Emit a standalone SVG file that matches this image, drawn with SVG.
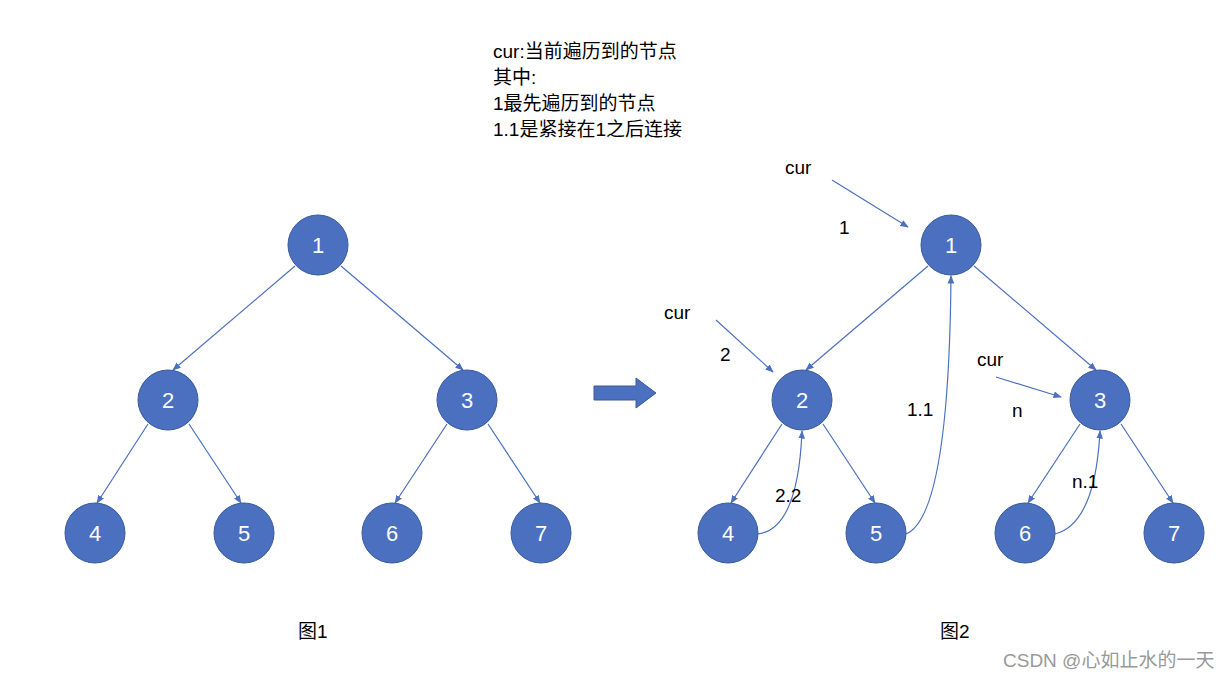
<svg xmlns="http://www.w3.org/2000/svg" width="1230" height="679" viewBox="0 0 1230 679">
<style>
.n circle{fill:#4a70bf;stroke:#3a5a9a;stroke-width:1}
.n text{fill:#fff;font:22px "Liberation Sans","Noto Sans CJK SC",sans-serif;text-anchor:middle;dominant-baseline:central}
.t{fill:#000;font:19px "Liberation Sans","Noto Sans CJK SC",sans-serif}
#c path,#c line{stroke:#4a70bf;stroke-width:1.2;fill:none;marker-end:url(#a)}
</style>
<defs><marker id="a" viewBox="0 0 10 10" refX="9" refY="5" markerWidth="7" markerHeight="7" orient="auto"><path d="M0,1L10,5L0,9z" fill="#4a70bf"/></marker></defs>
<rect width="1230" height="679" fill="#fff"/>
<text class="t" x="493" y="58">cur:当前遍历到的节点</text>
<text class="t" x="493" y="84">其中:</text>
<text class="t" x="493" y="110">1最先遍历到的节点</text>
<text class="t" x="493" y="136">1.1是紧接在1之后连接</text>
<g id="c">
<line x1="295" y1="266" x2="173" y2="370"/><line x1="341" y1="266" x2="463" y2="370"/>
<line x1="148" y1="424" x2="97" y2="503"/><line x1="189" y1="424" x2="241" y2="503"/>
<line x1="447" y1="424" x2="395" y2="503"/><line x1="488" y1="424" x2="540" y2="503"/>
<line x1="928" y1="266" x2="806" y2="370"/><line x1="974" y1="266" x2="1096" y2="370"/>
<line x1="782" y1="424" x2="731" y2="503"/><line x1="823" y1="424" x2="875" y2="503"/>
<line x1="1080" y1="424" x2="1028" y2="503"/><line x1="1121" y1="424" x2="1173" y2="503"/>
<path d="M758,534 C790,530 800,480 802,431"/>
<path d="M906,534 C940,520 950,400 951,276"/>
<path d="M1055,534 C1090,525 1098,470 1100,431"/>
<line x1="832" y1="180" x2="908" y2="227"/>
<line x1="716" y1="320" x2="773" y2="372"/>
<line x1="996" y1="377" x2="1061" y2="397"/>
</g>
<path d="M594,386H636V378L656,393L636,408V400H594z" fill="#4a70bf" stroke="#3a5a9a"/>
<g id="L1" class="n"><circle cx="318" cy="245" r="30"/><text x="318" y="245">1</text></g>
<g id="L2" class="n"><circle cx="168" cy="400" r="30"/><text x="168" y="400">2</text></g>
<g id="L3" class="n"><circle cx="467" cy="400" r="30"/><text x="467" y="400">3</text></g>
<g id="L4" class="n"><circle cx="95" cy="533" r="30"/><text x="95" y="533">4</text></g>
<g id="L5" class="n"><circle cx="244" cy="533" r="30"/><text x="244" y="533">5</text></g>
<g id="L6" class="n"><circle cx="392" cy="533" r="30"/><text x="392" y="533">6</text></g>
<g id="L7" class="n"><circle cx="541" cy="533" r="30"/><text x="541" y="533">7</text></g>
<g id="R1" class="n"><circle cx="951" cy="245" r="30"/><text x="951" y="245">1</text></g>
<g id="R2" class="n"><circle cx="802" cy="400" r="30"/><text x="802" y="400">2</text></g>
<g id="R3" class="n"><circle cx="1100" cy="400" r="30"/><text x="1100" y="400">3</text></g>
<g id="R4" class="n"><circle cx="728" cy="533" r="30"/><text x="728" y="533">4</text></g>
<g id="R5" class="n"><circle cx="876" cy="533" r="30"/><text x="876" y="533">5</text></g>
<g id="R6" class="n"><circle cx="1025" cy="533" r="30"/><text x="1025" y="533">6</text></g>
<g id="R7" class="n"><circle cx="1174" cy="533" r="30"/><text x="1174" y="533">7</text></g>
<text class="t" x="785" y="174">cur</text>
<text class="t" x="839" y="234">1</text>
<text class="t" x="664" y="319">cur</text>
<text class="t" x="720" y="361">2</text>
<text class="t" x="977" y="366">cur</text>
<text class="t" x="1012" y="417">n</text>
<text class="t" x="907" y="416">1.1</text>
<text class="t" x="775" y="502">2.2</text>
<text class="t" x="1072" y="488">n.1</text>
<text class="t" x="298" y="638">图1</text>
<text class="t" x="940" y="638">图2</text>
<text x="1003" y="667" style="font:19px 'Liberation Sans','Noto Sans CJK SC',sans-serif;fill:#999">CSDN @心如止水的一天</text>
</svg>
